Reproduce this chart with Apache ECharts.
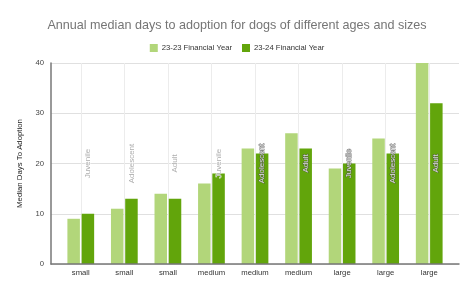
<!DOCTYPE html>
<html>
<head>
<meta charset="utf-8">
<script src="https://cdn.jsdelivr.net/npm/echarts@6/dist/echarts.min.js"></script>
<style>
  html, body { margin: 0; padding: 0; background: #fff; }
  #chart { width: 474px; height: 291px; }
</style>
</head>
<body>
<div id="chart"></div>
<script>
// categories (dog size) and age group annotations
var sizes = ['small', 'small', 'small', 'medium', 'medium', 'medium', 'large', 'large', 'large'];
var ageLabels = ['Juvenile', 'Adolescent', 'Adult', 'Juvenile', 'Adolescent', 'Adult', 'Juvenile', 'Adolescent', 'Adult'];
// median days to adoption
var fy2223 = [9, 11, 14, 16, 23, 26, 19, 25, 40];
var fy2324 = [10, 13, 13, 18, 22, 23, 20, 22, 32];
var yTicks = [0, 10, 20, 30, 40];
// height where the age labels sit
var labelLevel = 20;

var lightGreen = '#b2d67a';
var darkGreen = '#62a50b';

var chart = echarts.init(document.getElementById('chart'));

// labels over a bar get white text with an outline
var labelData = ageLabels.map(function (name, i) {
    var overBar = fy2324[i] >= labelLevel;
    return {
        value: labelLevel,
        name: name,
        label: overBar ? {
            color: '#fff',
            textBorderColor: '#555',
            textBorderWidth: 1
        } : {
            color: '#999',
            textBorderColor: '#fff',
            textBorderWidth: 1
        }
    };
});

chart.setOption({
    animation: false,
    title: {
        text: 'Annual median days to adoption for dogs of different ages and sizes',
        left: 'center',
        top: 14,
        textStyle: {
            fontFamily: 'Liberation Sans',
            fontSize: 12.6,
            fontWeight: 'normal',
            color: '#757575'
        }
    },
    legend: {
        top: 39,
        left: 'center',
        itemWidth: 8,
        itemHeight: 8,
        itemGap: 10,
        icon: 'rect',
        data: ['23-23 Financial Year', '23-24 Financial Year'],
        textStyle: {
            fontFamily: 'Liberation Sans',
            fontSize: 7.7,
            color: '#333',
            padding: [0, 0, 0, -1]
        }
    },
    grid: [
        { left: 51, right: 15, top: 63, bottom: 27 },
        { left: 59, right: 23, top: 63, bottom: 27 }
    ],
    xAxis: [
        {
            gridIndex: 0,
            type: 'category',
            data: sizes,
            z: 5,
            axisLine: { show: true, lineStyle: { color: '#777', width: 1.5 } },
            axisTick: { show: false },
            axisLabel: { show: false },
            splitLine: { show: false }
        },
        {
            gridIndex: 1,
            type: 'category',
            data: sizes,
            axisLine: { show: false },
            axisTick: { show: false },
            axisLabel: {
                fontFamily: 'Liberation Sans',
                fontSize: 7.7,
                color: '#333',
                margin: 5
            },
            splitLine: {
                show: true,
                alignWithLabel: true,
                lineStyle: { color: '#ececec' }
            }
        }
    ],
    yAxis: [
        {
            gridIndex: 0,
            type: 'value',
            min: yTicks[0],
            max: yTicks[yTicks.length - 1],
            interval: 10,
            name: 'Median Days To Adoption',
            nameLocation: 'middle',
            nameRotate: 90,
            nameGap: 27,
            nameTextStyle: {
                fontFamily: 'Liberation Sans',
                fontSize: 7.8,
                color: '#222'
            },
            axisLine: { show: true, lineStyle: { color: '#777', width: 1.5 } },
            axisTick: { show: false },
            axisLabel: {
                fontFamily: 'Liberation Sans',
                fontSize: 7.7,
                color: '#444',
                margin: 7
            },
            splitLine: { lineStyle: { color: '#e0e0e0' } }
        },
        {
            gridIndex: 1,
            type: 'value',
            min: yTicks[0],
            max: yTicks[yTicks.length - 1],
            show: false
        }
    ],
    series: [
        {
            name: '23-23 Financial Year',
            type: 'bar',
            xAxisIndex: 1,
            yAxisIndex: 1,
            barWidth: 12.5,
            barGap: '14%',
            itemStyle: { color: lightGreen },
            data: fy2223
        },
        {
            name: '23-24 Financial Year',
            type: 'bar',
            xAxisIndex: 1,
            yAxisIndex: 1,
            barWidth: 12.5,
            itemStyle: { color: darkGreen },
            data: fy2324
        },
        {
            type: 'scatter',
            xAxisIndex: 1,
            yAxisIndex: 1,
            symbolSize: 0,
            z: 4,
            silent: true,
            label: {
                show: true,
                position: 'inside',
                rotate: 90,
                offset: [0, 7],
                fontFamily: 'Liberation Sans',
                fontSize: 8,
                formatter: function (p) { return p.name; }
            },
            data: labelData
        }
    ]
});
</script>
</body>
</html>
